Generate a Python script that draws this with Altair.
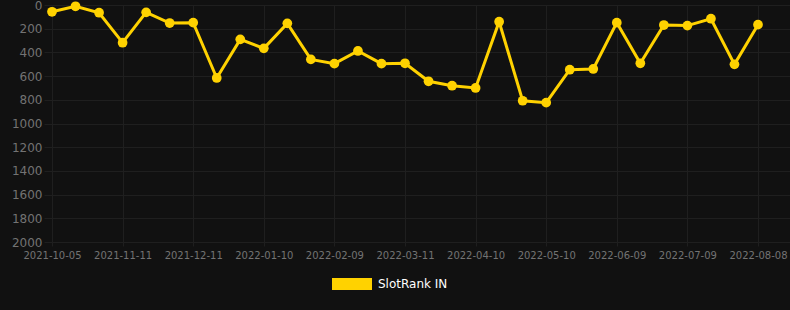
import altair as alt
import pandas as pd

# SlotRank IN rank, one point every 10 days
ranks = [57, 11, 65, 318, 62, 152, 149, 616, 290, 366,
         155, 459, 495, 388, 495, 492, 644, 681, 700, 141,
         808, 824, 546, 540, 149, 492, 169, 174, 116, 501, 166]
series_name = "SlotRank IN"

tick_index = [0, 3, 6, 9, 12, 15, 18, 21, 24, 27, 30]
tick_labels = ["2021-10-05", "2021-11-11", "2021-12-11", "2022-01-10", "2022-02-09",
               "2022-03-11", "2022-04-10", "2022-05-10", "2022-06-09", "2022-07-09",
               "2022-08-08"]
y_ticks = list(range(0, 2001, 200))

df = pd.DataFrame({"i": list(range(len(ranks))), "rank": ranks, "series": series_name})

label_map = "{" + ",".join(f"'{k}':'{v}'" for k, v in zip(tick_index, tick_labels)) + "}"

GOLD = "#FFD200"
GRID = "#1f1f1f"
LABEL = "#737373"

x = alt.X("i:Q",
          scale=alt.Scale(domain=[-0.34, 31.36], nice=False, zero=False),
          axis=alt.Axis(values=tick_index, labelExpr=f"{label_map}[datum.value]",
                        title=None, grid=True, gridColor=GRID, domain=False,
                        tickColor=GRID, tickSize=4, labelPadding=4,
                        labelColor=LABEL, labelFontSize=10, labelFont="DejaVu Sans"))
y = alt.Y("rank:Q",
          scale=alt.Scale(domain=[0, 2000], reverse=True, nice=False),
          axis=alt.Axis(values=y_ticks, format="d", title=None, grid=True, gridColor=GRID,
                        domain=False, ticks=False, labelPadding=2,
                        labelColor=LABEL, labelFontSize=12, labelFont="DejaVu Sans"))
color = alt.Color("series:N",
                  scale=alt.Scale(range=[GOLD]),
                  legend=alt.Legend(title=None, orient="none", legendX=288, legendY=259,
                                    symbolType="M-1,-0.3H1V0.3H-1Z", symbolSize=1600,
                                    symbolStrokeWidth=0, symbolOpacity=1,
                                    labelColor="#ffffff", labelFontSize=12,
                                    labelFont="DejaVu Sans", labelOffset=6))

line = alt.Chart(df).mark_line(strokeWidth=3).encode(x=x, y=y, color=color)
pts = alt.Chart(df).mark_point(filled=True, size=95, opacity=1).encode(x=x, y=y, color=color)

chart = (line + pts).properties(
    width=746, height=237,
    background="#111111",
    padding={"left": 44, "top": 5, "right": 0, "bottom": 68},
    autosize=alt.AutoSizeParams(type="none"),
).configure_view(stroke=None)

chart.save("out.html", embed_options={"renderer": "svg", "actions": False})
